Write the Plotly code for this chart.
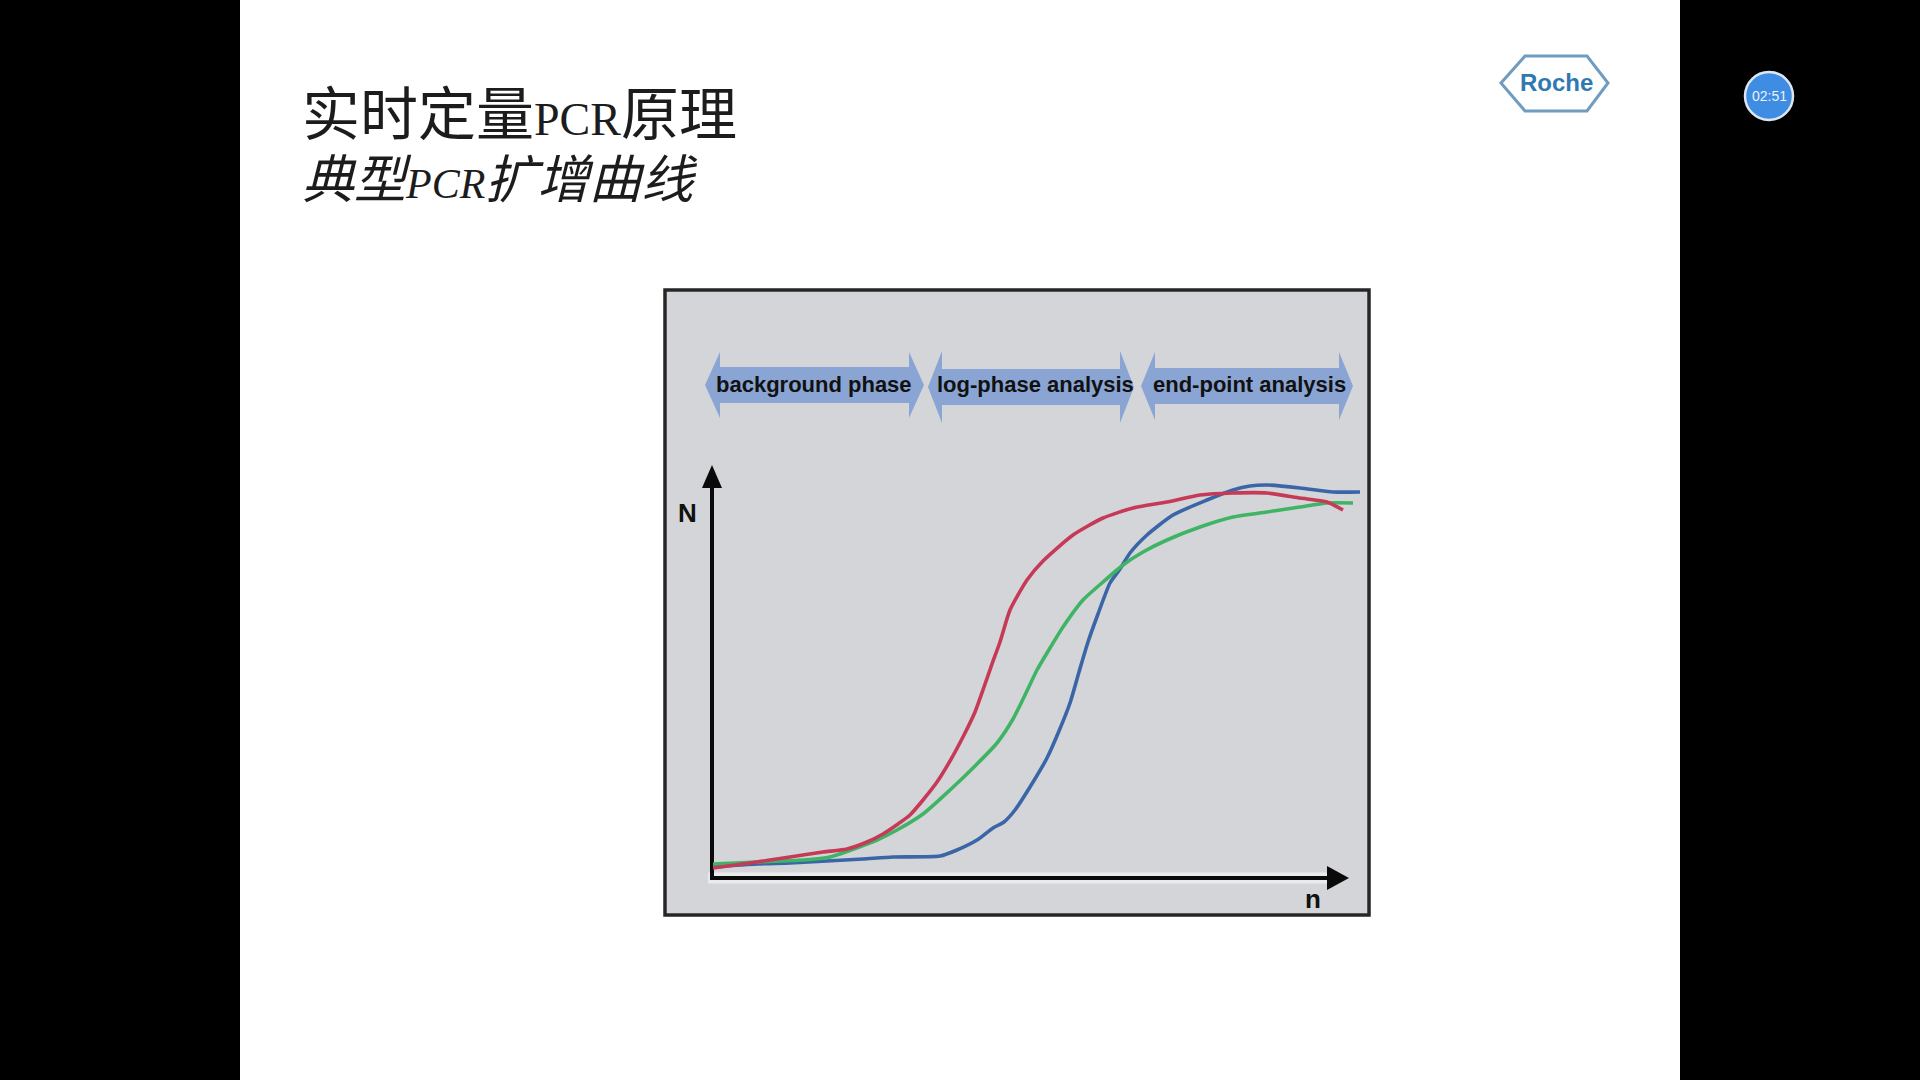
import plotly.graph_objects as go

# ---------- data (axis units) ----------
red_n = [1, 38, 78, 111, 135, 155, 171, 186, 198, 211, 225, 238, 252, 263, 272, 280, 288, 298, 315, 331, 361, 391, 421, 455, 488, 521, 555, 588, 615, 631]
red_N = [9, 14, 20, 25, 28, 35, 43, 53, 62, 77, 95, 116, 142, 165, 190, 213, 235, 267, 297, 316, 342, 359, 369, 375, 382, 384, 384, 379, 375, 367]
green_n = [1, 45, 91, 118, 165, 185, 211, 238, 261, 285, 301, 313, 325, 338, 351, 371, 391, 411, 431, 455, 488, 521, 555, 588, 615, 641]
green_N = [13, 15, 17, 20, 37, 47, 63, 87, 109, 134, 158, 182, 207, 229, 250, 277, 295, 312, 325, 337, 350, 360, 365, 370, 374, 374]
blue_n = [1, 45, 78, 115, 151, 181, 228, 245, 265, 281, 292, 303, 318, 335, 347, 358, 367, 376, 386, 398, 408, 418, 435, 461, 495, 521, 538, 555, 588, 621, 648]
blue_N = [10, 13, 14, 16, 18, 20, 21, 27, 37, 49, 55, 67, 90, 119, 146, 174, 205, 235, 263, 294, 308, 324, 342, 362, 377, 387, 391, 392, 389, 385, 385]

phase_labels = ["background phase", "log-phase analysis", "end-point analysis"]
title_parts = ["实时定量", "PCR", "原理"]
subtitle_parts = ["典型", "PCR", "扩增曲线"]
axis_y_label = "N"
axis_x_label = "n"
logo_text = "Roche"
timer_text = "02:51"

W, H = 1920, 1080
X0, X1 = 712, 1364
Y0, Y1 = 877, 465


def fx(x):
    return x / W


def fy(y):
    return 1 - y / H


def path(points):
    return "M " + " L ".join(f"{fx(x):.5f},{fy(y):.5f}" for x, y in points) + " Z"


def rect(x0, y0, x1, y1, **kw):
    return dict(type="rect", xref="paper", yref="paper", x0=fx(x0), x1=fx(x1), y0=fy(y0), y1=fy(y1), layer="below", **kw)


def poly(points, fill, line=None, lw=0, layer="below"):
    return dict(type="path", xref="paper", yref="paper", path=path(points), fillcolor=fill,
                line=dict(color=line or fill, width=lw), layer=layer)


def seg(x0, y0, x1, y1, color, width):
    return dict(type="line", xref="paper", yref="paper", x0=fx(x0), x1=fx(x1), y0=fy(y0), y1=fy(y1),
                line=dict(color=color, width=width), layer="below")


def dbl_arrow(x0, x1, cy, head, body, wing):
    return [(x0, cy), (x0 + head, cy - wing), (x0 + head, cy - body), (x1 - head, cy - body),
            (x1 - head, cy - wing), (x1, cy), (x1 - head, cy + wing), (x1 - head, cy + body),
            (x0 + head, cy + body), (x0 + head, cy + wing)]


shapes = [
    rect(240, 0, 1680, 1080, fillcolor="#ffffff", line=dict(width=0)),
    rect(666, 291, 1368, 914, fillcolor="#d3d5d8", line=dict(color="#e6e7e9", width=2)),
    rect(665, 290, 1369, 915, fillcolor="rgba(0,0,0,0)", line=dict(color="#262626", width=3.5)),
    poly(dbl_arrow(705, 924, 385, 15, 18, 33), "#8aa5d3"),
    poly(dbl_arrow(928, 1134, 387, 14, 18, 36), "#8aa5d3"),
    poly(dbl_arrow(1141, 1353, 386, 14, 18, 34), "#8aa5d3"),
    # light halo along the horizontal axis, then the two axis lines
    seg(708, 878, 1330, 878, "#e9eaec", 11),
    seg(712, 482, 712, 880, "#0a0a0a", 4),
    seg(710, 878, 1330, 878, "#0a0a0a", 4),
    # axis arrow heads
    poly([(1349, 878), (1327, 866), (1327, 890)], "#0a0a0a", layer="above"),
    poly([(712, 465), (702, 488), (722, 488)], "#0a0a0a", layer="above"),
    # Roche logo
    dict(type="path", xref="paper", yref="paper",
         path=path([(1501, 83), (1525, 56), (1587, 56), (1608, 83), (1587, 111), (1525, 111)]),
         fillcolor="rgba(0,0,0,0)", line=dict(color="#6f9cc0", width=3), layer="below"),
    # timer badge
    dict(type="circle", xref="paper", yref="paper", x0=fx(1745), x1=fx(1793), y0=fy(72), y1=fy(120),
         fillcolor="#3f8de2", line=dict(color="#dbe6f2", width=2.5), layer="below"),
]


def note(text, x, y, size, color="#111111", family="Liberation Sans", xanchor="center"):
    return dict(text=text, xref="paper", yref="paper", x=fx(x), y=fy(y), showarrow=False,
                xanchor=xanchor, yanchor="middle", align="left",
                font=dict(size=size, color=color, family=family), borderpad=0, borderwidth=0)


def cjk(s, size):
    return f'<span style="font-family:\'Noto Sans CJK SC\';font-size:{size}px">{s}</span>'


def latin(s, size):
    return f'<span style="font-family:\'Liberation Serif\';font-size:{size}px">{s}</span>'


title_text = cjk(title_parts[0], 58) + latin(title_parts[1], 46) + cjk(title_parts[2], 58)
sub_text = "<i>" + cjk(subtitle_parts[0], 52) + latin(subtitle_parts[1], 42) + cjk(subtitle_parts[2], 52) + "</i>"

annotations = [
    note(title_text + "<br>" + sub_text, 302, 140, 48.7, "#1c1c1c", "Noto Sans CJK SC", "left"),
    note(f"<b>{phase_labels[0]}</b>", 814, 385, 22),
    note(f"<b>{phase_labels[1]}</b>", 1035, 385, 22),
    note(f"<b>{phase_labels[2]}</b>", 1249, 385, 22),
    note(f"<b>{axis_y_label}</b>", 687, 513, 26),
    note(f"<b>{axis_x_label}</b>", 1313, 899, 26),
    note(f"<b>{logo_text}</b>", 1556, 83, 24, "#2f78b2", "Liberation Sans"),
    note(timer_text, 1769, 96, 14, "#e8f2fc", "Liberation Sans"),
]

fig = go.Figure()
for name, xs, ys, color in [
    ("blue", blue_n, blue_N, "#3a66a8"),
    ("green", green_n, green_N, "#3fb465"),
    ("red", red_n, red_N, "#c63a58"),
]:
    fig.add_trace(go.Scatter(x=xs, y=ys, mode="lines", name=name, hoverinfo="skip", cliponaxis=False,
                             line=dict(color=color, width=3.6, shape="spline", smoothing=0.6)))

fig.update_layout(
    width=W, height=H, autosize=False,
    margin=dict(l=0, r=0, t=0, b=0, pad=0),
    paper_bgcolor="#000000", plot_bgcolor="rgba(0,0,0,0)",
    showlegend=False, shapes=shapes, annotations=annotations,
    xaxis=dict(domain=[fx(X0), fx(X1)], range=[0, X1 - X0], showgrid=False, zeroline=False,
               showticklabels=False, ticks="", showline=False),
    yaxis=dict(domain=[fy(Y0), fy(Y1)], range=[0, Y0 - Y1], showgrid=False, zeroline=False,
               showticklabels=False, ticks="", showline=False),
)

fig.write_html(
    "out.html",
    config={"displayModeBar": False, "staticPlot": True},
    post_script="document.body.style.margin='0';document.body.style.background='#000';document.documentElement.style.overflow='hidden';",
)
